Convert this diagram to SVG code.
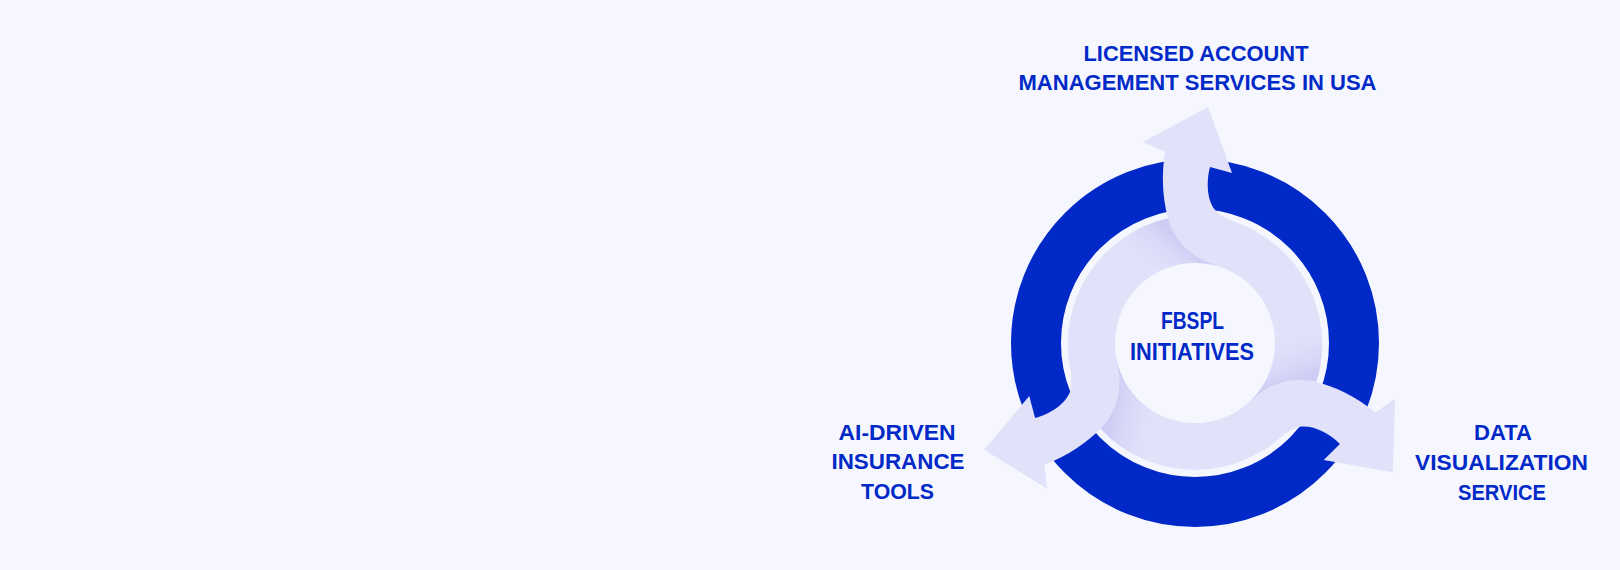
<svg xmlns="http://www.w3.org/2000/svg" width="1620" height="570" viewBox="0 0 1620 570">
<defs>
<style>
.lbl{font-family:"Liberation Sans",Arial,sans-serif;font-weight:700;font-size:21.5px;fill:#0029C8;text-anchor:middle}
.ctr{font-size:23px}
.band{fill:#E1E1FA}
</style>
<linearGradient id="shade" gradientUnits="userSpaceOnUse" x1="1180" y1="240" x2="1150" y2="276">
<stop offset="0" stop-color="#CBCBF4" stop-opacity="0.9"/>
<stop offset="1" stop-color="#E1E1FA" stop-opacity="0"/>
</linearGradient>
<g id="arrow">
<path d="M1071.8,310 A127.5,127.5 0 0 1 1228,219.8 L1215.7,265.7 A80,80 0 0 0 1117.7,322.3 Z" fill="url(#shade)"/>
<path class="band" d="M1221,266.5 C1198,262 1175,245 1168,218 C1163,200 1161,178 1165,152 L1143,142 L1208,107 L1232,173 L1210,167 C1206,182 1207,200 1215,210 C1224,220 1240,222.7 1254,230 L1265,240 L1243,278 Z"/>
</g>
</defs>
<rect width="1620" height="570" fill="#F6F7FE"/>
<g id="ring">
<circle cx="1195" cy="343" r="159" fill="none" stroke="#0029C8" stroke-width="50"/>
</g>
<g id="hub-ring">
<circle cx="1195" cy="343" r="127" fill="#E1E1FA"/>
</g>
<g id="connectors">
<use href="#arrow"/>
<use href="#arrow" transform="rotate(120 1195 343)"/>
<use href="#arrow" transform="rotate(240 1195 343)"/>
</g>
<g id="hub">
<circle cx="1195" cy="343" r="80" fill="#F6F7FE"/>
<text class="lbl ctr" x="1192.5" y="328.5" textLength="63" lengthAdjust="spacingAndGlyphs">FBSPL</text>
<text class="lbl ctr" x="1192" y="359.5" textLength="124" lengthAdjust="spacingAndGlyphs">INITIATIVES</text>
</g>
<g id="node-licensed">
<text class="lbl" x="1196" y="61" textLength="225" lengthAdjust="spacingAndGlyphs">LICENSED ACCOUNT</text>
<text class="lbl" x="1197.5" y="90" textLength="358" lengthAdjust="spacingAndGlyphs">MANAGEMENT SERVICES IN USA</text>
</g>
<g id="node-ai">
<text class="lbl" x="897" y="439.5" textLength="117" lengthAdjust="spacingAndGlyphs">AI-DRIVEN</text>
<text class="lbl" x="898" y="468.5" textLength="133" lengthAdjust="spacingAndGlyphs">INSURANCE</text>
<text class="lbl" x="897.5" y="499.3" textLength="73" lengthAdjust="spacingAndGlyphs">TOOLS</text>
</g>
<g id="node-data">
<text class="lbl" x="1503" y="439.5" textLength="58" lengthAdjust="spacingAndGlyphs">DATA</text>
<text class="lbl" x="1501.5" y="469.5" textLength="173" lengthAdjust="spacingAndGlyphs">VISUALIZATION</text>
<text class="lbl" x="1502" y="499.5" textLength="88" lengthAdjust="spacingAndGlyphs">SERVICE</text>
</g>
</svg>
